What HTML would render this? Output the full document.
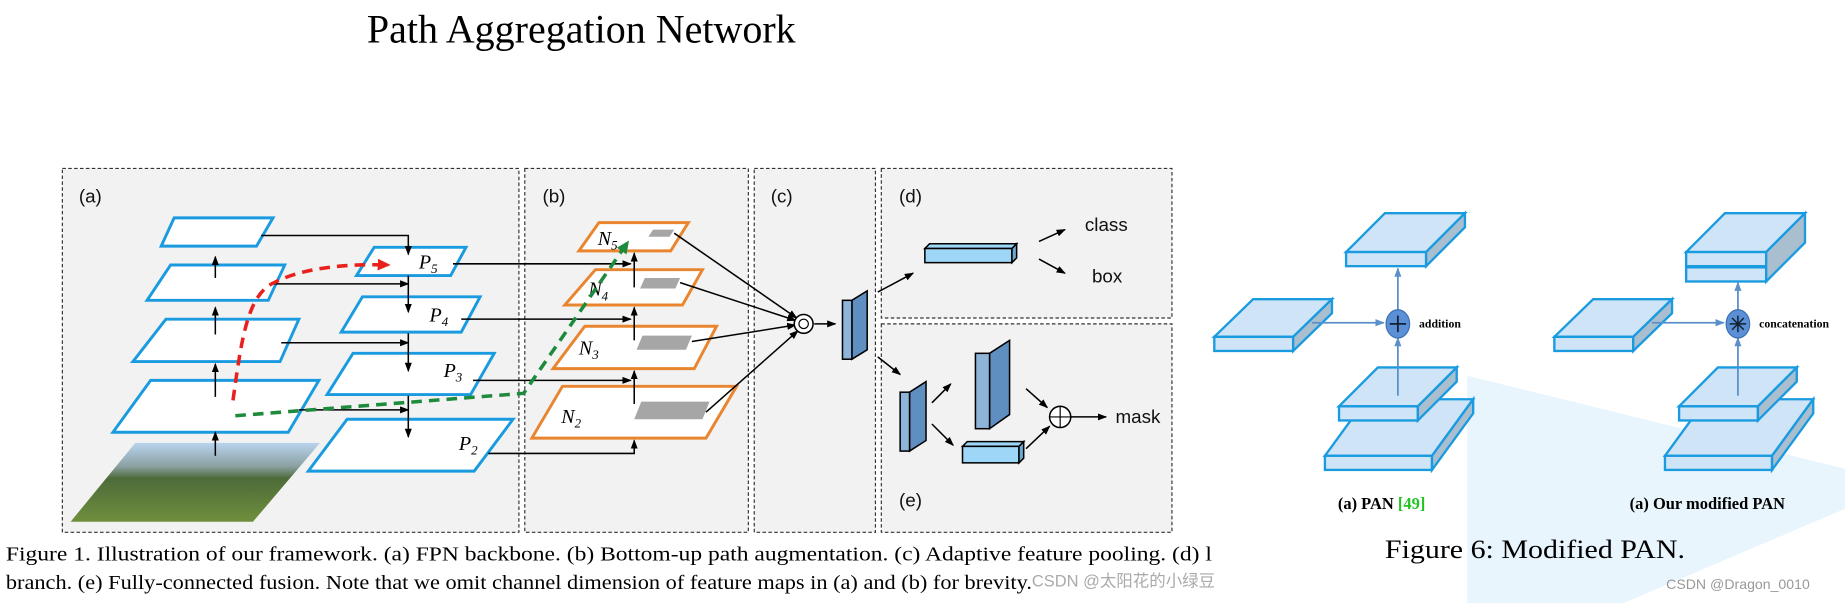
<!DOCTYPE html>
<html><head><meta charset="utf-8"><style>
html,body{margin:0;padding:0;background:#fff;width:1845px;height:603px;overflow:hidden}
svg{display:block}
text{font-family:"Liberation Serif",serif}
.s{font-family:"Liberation Sans",sans-serif}
</style></head><body>
<svg width="1845" height="603" viewBox="0 0 1568 512" preserveAspectRatio="none">
<defs>
<marker id="a" markerWidth="8" markerHeight="8" refX="7" refY="4" orient="auto" markerUnits="userSpaceOnUse"><path d="M0,1 L8,4 L0,7 z" fill="#000"/></marker>
<marker id="r" markerWidth="12" markerHeight="12" refX="10" refY="6" orient="auto" markerUnits="userSpaceOnUse"><path d="M0,1 L11,6 L0,11 z" fill="#e8211c"/></marker>
<marker id="g" markerWidth="12" markerHeight="12" refX="10" refY="6" orient="auto" markerUnits="userSpaceOnUse"><path d="M0,1 L11,6 L0,11 z" fill="#1e8a3c"/></marker>
<marker id="b" markerWidth="8" markerHeight="8" refX="7" refY="4" orient="auto" markerUnits="userSpaceOnUse"><path d="M0,1 L8,4 L0,7 z" fill="#5b8fc9"/></marker>
<linearGradient id="img" x1="0" y1="0" x2="0" y2="1"><stop offset="0" stop-color="#b9d4ef"/><stop offset="0.3" stop-color="#8aa0a0"/><stop offset="0.45" stop-color="#4d6b3a"/><stop offset="1" stop-color="#6f8f3c"/></linearGradient>
</defs>
<!-- watermark -->
<polygon points="1247,319 1568,398 1568,432 1380,512 1247,512" fill="#e8f5fd"/>
<text x="494" y="36" font-size="34" text-anchor="middle">Path Aggregation Network</text>
<!-- panels -->
<g fill="#f2f2f2" stroke="#333" stroke-width="1" stroke-dasharray="3,2">
<rect x="53" y="143" width="388" height="309"/>
<rect x="446" y="143" width="190" height="309"/>
<rect x="641" y="143" width="103" height="309"/>
<rect x="749" y="143" width="247" height="127"/>
<rect x="749" y="275" width="247" height="177"/>
</g>
<g class="s" font-size="16" fill="#111">
<text x="67" y="172" class="s">(a)</text><text x="461" y="172" class="s">(b)</text>
<text x="655" y="172" class="s">(c)</text><text x="764" y="172" class="s">(d)</text>
<text x="764" y="430" class="s">(e)</text>
<text x="922" y="196" class="s">class</text><text x="928" y="240" class="s">box</text>
<text x="948" y="359" class="s">mask</text>
</g>
<!-- image -->
<polygon points="115,376 272,376 215,443 60,443" fill="url(#img)"/>
<!-- left planes -->
<g fill="#fff" stroke="#1a9be0" stroke-width="2.5">
<polygon points="148,185 232,185 218,209 137,209"/>
<polygon points="145,225 242,225 228,255 125,255"/>
<polygon points="141,271 254,271 238,307 113,307"/>
<polygon points="128,323 271,323 245,367 96,367"/>
<polygon points="318,210 396,210 383,234 303,234"/>
<polygon points="308,252 408,252 392,282 290,282"/>
<polygon points="300,300 420,300 400,335 278,335"/>
<polygon points="295,356 436,356 403,400 262,400"/>
</g>
<g fill="#fff" stroke="#e8852e" stroke-width="2.5">
<polygon points="509,189 585,189 570,213 492,213"/>
<polygon points="506,229 597,229 580,259 480,259"/>
<polygon points="497,277 609,277 590,313 470,313"/>
<polygon points="478,328 626,328 600,372 452,372"/>
</g>
<g fill="#a6a6a6">
<polygon points="555,195 573,195 569,201 551,201"/>
<polygon points="548,236 578,236 574,245 544,245"/>
<polygon points="546,285 588,285 583,297 541,297"/>
<polygon points="545,341 603,341 597,356 539,356"/>
</g>
<g font-style="italic" font-size="17" fill="#000">
<text x="356" y="228">P<tspan font-size="11" dy="4">5</tspan></text>
<text x="365" y="273">P<tspan font-size="11" dy="4">4</tspan></text>
<text x="377" y="320">P<tspan font-size="11" dy="4">3</tspan></text>
<text x="390" y="382">P<tspan font-size="11" dy="4">2</tspan></text>
<text x="508" y="208">N<tspan font-size="11" dy="4">5</tspan></text>
<text x="500" y="251">N<tspan font-size="11" dy="4">4</tspan></text>
<text x="492" y="301">N<tspan font-size="11" dy="4">3</tspan></text>
<text x="477" y="359">N<tspan font-size="11" dy="4">2</tspan></text>
</g>
<!-- arrows -->
<g stroke="#000" stroke-width="1.3" fill="none" marker-end="url(#a)">
<path d="M183,387 V367"/><path d="M183,337 V309"/><path d="M183,284 V261"/><path d="M183,236 V218"/>
<path d="M222,200 H347 V216"/>
<path d="M347,234 V265"/><path d="M347,283 V315"/><path d="M347,336 V371"/>
<path d="M233,241 H347"/><path d="M239,291 H347"/><path d="M254,348 H347"/>
<path d="M385,224 H536"/><path d="M392,271 H536"/><path d="M402,323 H536"/>
<path d="M415,385 H539 V374"/>
<path d="M539,343 V315"/><path d="M539,289 V261"/><path d="M539,244 V215"/>
<path d="M573,198 L677,270"/><path d="M578,240 L676,272"/><path d="M588,290 L676,276"/><path d="M600,350 L678,281"/>
<path d="M692,275 H710"/>
<path d="M746,248 L776,232"/>
<path d="M883,205 L905,195"/><path d="M883,220 L905,232"/>
<path d="M746,303 L765,318"/>
<path d="M792,342 L808,326"/><path d="M792,360 L810,378"/>
<path d="M872,330 L890,346"/><path d="M872,381 L892,362"/>
<path d="M910,354 H940"/>
</g>
<path d="M198,340 C205,290 210,250 233,240 C260,226 300,224 331,225" stroke="#e8211c" stroke-width="3" fill="none" stroke-dasharray="9,6" marker-end="url(#r)"/>
<path d="M200,353 L445,334 L534,205" stroke="#1e8a3c" stroke-width="3" fill="none" stroke-dasharray="9,6" marker-end="url(#g)"/>
<circle cx="683" cy="275" r="8" fill="#fff" stroke="#000" stroke-width="1.3"/><circle cx="683" cy="275" r="4" fill="none" stroke="#000"/>
<circle cx="901" cy="354" r="9" fill="#fff" stroke="#000" stroke-width="1.3"/><path d="M892,354 H910 M901,345 V363" stroke="#000"/>
<!-- blocks c-e -->
<g stroke="#000" stroke-width="1.3">
<polygon points="724,255 737,247 737,297 724,305" fill="#5f8fc0"/><rect x="716" y="255" width="8" height="50" fill="#8fb4d9"/>
<polygon points="786,211 790,207 864,207 860,211" fill="#9dd6f7"/><rect x="786" y="211" width="74" height="12" fill="#9dd6f7"/><polygon points="860,211 864,207 864,219 860,223" fill="#6aa9d0"/>
<polygon points="773,333 787,324 787,374 773,383" fill="#5f8fc0"/><rect x="765" y="333" width="8" height="50" fill="#8fb4d9"/>
<polygon points="841,300 858,289 858,352 841,364" fill="#5f8fc0"/><rect x="829" y="300" width="12" height="64" fill="#8fb4d9"/>
<polygon points="818,379 822,375 870,375 866,379" fill="#9dd6f7"/><rect x="818" y="379" width="48" height="14" fill="#9dd6f7"/><polygon points="866,379 870,375 870,389 866,393" fill="#6aa9d0"/>
</g>
<!-- Figure 6 blocks -->
<g id="pan" stroke="#1a9be0" stroke-width="2">
<g fill="#cfe5f7">
<polygon points="1144,214 1212,214 1245,181 1177,181"/><rect x="1144" y="214" width="68" height="12"/><polygon points="1212,214 1245,181 1245,193 1212,226" fill="#a9bfcf"/>
<polygon points="1032,286 1099,286 1132,254 1065,254"/><rect x="1032" y="286" width="67" height="12"/><polygon points="1099,286 1132,254 1132,266 1099,298" fill="#a9bfcf"/>
<polygon points="1126,387 1217,387 1252,339 1161,339"/><rect x="1126" y="387" width="91" height="12"/><polygon points="1217,387 1252,339 1252,351 1217,399" fill="#a9bfcf"/>
<polygon points="1138,345 1205,345 1238,312 1171,312"/><rect x="1138" y="345" width="67" height="12"/><polygon points="1205,345 1238,312 1238,324 1205,357" fill="#a9bfcf"/>
</g></g>
<g stroke="#1a9be0" stroke-width="2" fill="#cfe5f7">
<polygon points="1433,214 1501,214 1534,181 1466,181"/><rect x="1433" y="214" width="68" height="12"/><rect x="1433" y="227" width="68" height="12"/><polygon points="1501,214 1534,181 1534,206 1501,239" fill="#a9bfcf"/>
<polygon points="1321,286 1388,286 1421,254 1354,254"/><rect x="1321" y="286" width="67" height="12"/><polygon points="1388,286 1421,254 1421,266 1388,298" fill="#a9bfcf"/>
<polygon points="1415,387 1506,387 1541,339 1450,339"/><rect x="1415" y="387" width="91" height="12"/><polygon points="1506,387 1541,339 1541,351 1506,399" fill="#a9bfcf"/>
<polygon points="1427,345 1494,345 1527,312 1460,312"/><rect x="1427" y="345" width="67" height="12"/><polygon points="1494,345 1527,312 1527,324 1494,357" fill="#a9bfcf"/>
</g>
<g stroke="#5b8fc9" stroke-width="1.5" fill="none" marker-end="url(#b)">
<path d="M1188,336 V287"/><path d="M1188,263 V228"/><path d="M1115,274 H1176"/>
<path d="M1477,336 V287"/><path d="M1477,263 V240"/><path d="M1404,274 H1465"/>
</g>
<ellipse cx="1188" cy="275" rx="10" ry="12" fill="#5b8fd6" stroke="#3a6fb0"/>
<path d="M1181,275 H1195 M1188,268 V282" stroke="#123" stroke-width="1.5"/>
<ellipse cx="1477" cy="275" rx="10" ry="12" fill="#5b8fd6" stroke="#3a6fb0"/>
<path d="M1470,275 H1484 M1477,268 V282 M1472,270 L1482,280 M1482,270 L1472,280" stroke="#123" stroke-width="1.3"/>
<text x="1206" y="278" font-size="10" font-weight="bold">addition</text>
<text x="1495" y="278" font-size="10" font-weight="bold">concatenation</text>
<text x="1137" y="432" font-size="14" font-weight="bold">(a) PAN <tspan fill="#22c322">[49]</tspan></text>
<text x="1385" y="432" font-size="14" font-weight="bold">(a) Our modified PAN</text>
<text x="1177" y="474" font-size="22" textLength="255" lengthAdjust="spacingAndGlyphs">Figure 6: Modified PAN.</text>
<text x="1416" y="500" font-size="12" fill="#999" class="s">CSDN @Dragon_0010</text>
<text x="5" y="476" font-size="17" textLength="1025" lengthAdjust="spacingAndGlyphs">Figure 1. Illustration of our framework.  (a) FPN backbone.  (b) Bottom-up path augmentation.  (c) Adaptive feature pooling.  (d) l</text>
<text x="5" y="500" font-size="17" textLength="872" lengthAdjust="spacingAndGlyphs">branch. (e) Fully-connected fusion. Note that we omit channel dimension of feature maps in (a) and (b) for brevity.</text>
<text x="877" y="498" font-size="14" fill="#aaa" style="font-family:'Liberation Sans','Noto Sans CJK SC',sans-serif">CSDN @太阳花的小绿豆</text>
</svg>
</body></html>
